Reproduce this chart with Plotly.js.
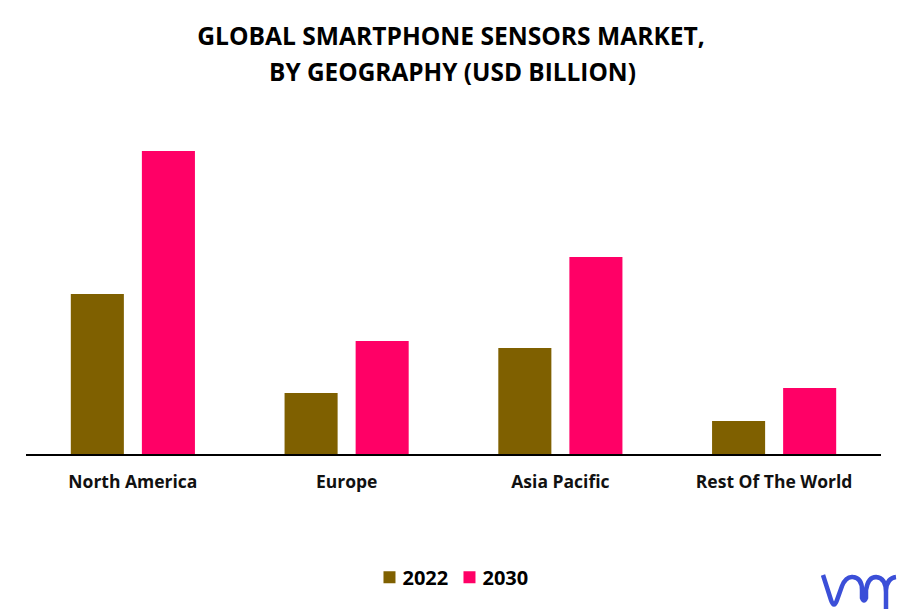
<!DOCTYPE html>
<html><head><meta charset="utf-8">
<script src="https://cdn.plot.ly/plotly-3.0.1.min.js"></script>
<style>html,body{margin:0;padding:0;background:#fff}</style></head>
<body><div id="c" style="width:902px;height:612px"></div>
<script>
const categories=["North America","Europe","Asia Pacific","Rest Of The World"];
const values2022=[160,61,106,33];
const values2030=[303,113,197,66];
const seriesNames=["2022","2030"];
const titleLines=["GLOBAL SMARTPHONE SENSORS MARKET,","BY GEOGRAPHY (USD BILLION)"];
const F="Open Sans, sans-serif";
const L=26,B=454;
const P=(x,y)=>(x-L)+" "+(B-y);
const logo="M"+P(823,575)+" L"+P(831,600)+" Q"+P(834,609)+" "+P(837,600)+" L"+P(842,586)+" Q"+P(846,576)+" "+P(853,577)+" Q"+P(862,578)+" "+P(862,590)+" L"+P(862,598)+" Q"+P(864,603)+" "+P(866,598)+" L"+P(866,590)+" Q"+P(868,577)+" "+P(876,577)+" Q"+P(886,578)+" "+P(886,592)+" L"+P(886,609)+" L"+P(886,590)+" Q"+P(887,578)+" "+P(896,577);
Plotly.newPlot("c",[
{type:"bar",name:seriesNames[0],x:categories,y:values2022,marker:{color:"#7F6000"}},
{type:"bar",name:seriesNames[1],x:categories,y:values2030,marker:{color:"#FF0066"}}
],{
width:902,height:612,paper_bgcolor:"#fff",plot_bgcolor:"#fff",
margin:{l:L,r:21,t:120,b:158},
title:{text:"<b>"+titleLines[0]+"</b>",x:0.5,xanchor:"center",y:0.9405,yanchor:"middle",font:{family:F,size:24.6,color:"#000"}},
annotations:[{text:"<b>"+titleLines[1]+"</b>",xref:"paper",yref:"paper",x:0.4985,xanchor:"center",y:1.144,yanchor:"middle",showarrow:false,font:{family:F,size:24.4,color:"#000"}}],
barmode:"group",bargap:0.335,bargroupgap:0.2535,
xaxis:{type:"category",tickmode:"array",tickvals:categories,ticktext:categories.map(c=>"<b>"+c+"</b>"),showline:true,linecolor:"#000",linewidth:2,ticks:"",ticklabelstandoff:11,tickfont:{family:F,size:17.5,color:"#111"},showgrid:false,zeroline:false,fixedrange:true},
yaxis:{range:[0,334],showgrid:false,zeroline:false,showticklabels:false,ticks:"",fixedrange:true},
showlegend:true,
legend:{orientation:"h",x:0.4953,xanchor:"center",y:-0.369,yanchor:"middle",itemwidth:30,entrywidth:35,entrywidthmode:"pixels",font:{family:F,size:20,color:"#000"},traceorder:"normal"},
shapes:[{type:"path",xref:"paper",yref:"paper",xsizemode:"pixel",ysizemode:"pixel",xanchor:0,yanchor:0,path:logo,line:{color:"#3B4FD8",width:4.5},fillcolor:"rgba(0,0,0,0)"}]
},{displayModeBar:false,staticPlot:true}).then(()=>{
 document.querySelectorAll(".legendtext").forEach(t=>{t.style.fontWeight="700";t.setAttribute("x",+t.getAttribute("x")-7);});
});
</script></body></html>
